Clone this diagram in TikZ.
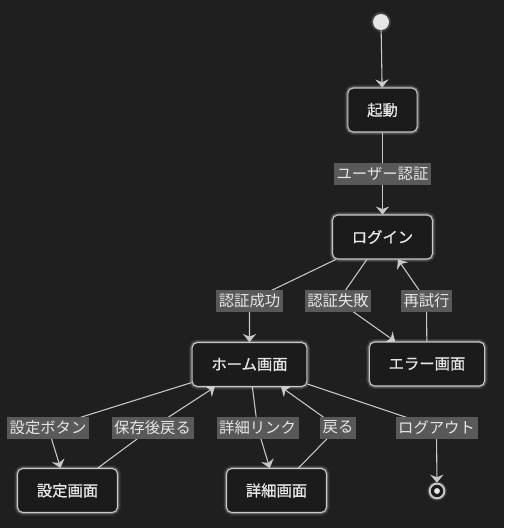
\documentclass[tikz,border=0pt]{standalone}
\usepackage{fontspec}
\newfontfamily\jpfont{Noto Sans CJK JP}
\newfontfamily\jpmid[FakeBold=0.9]{Noto Sans CJK JP}
\usetikzlibrary{arrows.meta,backgrounds}
\definecolor{bgdark}{HTML}{1F1F1F}
\definecolor{boxfill}{HTML}{1B1B1B}
\definecolor{boxline}{HTML}{C8C8C8}
\definecolor{tagfill}{HTML}{595959}
\definecolor{inktext}{HTML}{E6E6E6}

\begin{document}
\begin{tikzpicture}[x=0.75pt,y=-0.75pt,
    state/.style={draw=boxline, fill=boxfill, rounded corners=4pt, line width=0.8pt,
        text=inktext, font=\jpmid\fontsize{11.5}{14}\selectfont,
        minimum height=33pt, inner xsep=14.5pt,
        preaction={draw=white, opacity=0.10, line width=4.5pt},
        preaction={draw=white, opacity=0.22, line width=2.4pt}},
    tag/.style={fill=tagfill, text=inktext, font=\jpfont\fontsize{11.5}{14}\selectfont,
        inner xsep=2pt, inner ysep=1pt, minimum height=16.5pt},
    edge/.style={draw=boxline, line width=0.8pt, -{Stealth[width=10pt,length=6pt,inset=2pt]}}]

    % states
    \node[circle, fill=inktext, minimum size=12pt, inner sep=0pt,
        preaction={draw=white, opacity=0.15, line width=3pt}] (start) at (381,22) {};
    \node[state] (boot)     at (382.5,110)   {起動};
    \node[state] (login)    at (382.5,237)   {ログイン};
    \node[state] (home)     at (249.5,364.5) {ホーム画面};
    \node[state] (error)    at (427,364)     {エラー画面};
    \node[state] (settings) at (67.5,490.5)  {設定画面};
    \node[state] (detail)   at (276.5,490.5) {詳細画面};
    \node[circle, draw=boxline, line width=1.5pt, fill=boxfill, minimum size=11pt, inner sep=0pt,
        preaction={draw=white, opacity=0.15, line width=3.5pt},
        path picture={\fill[inktext] (path picture bounding box.center) circle (2.2pt);}]
        (finish) at (437,491) {};

    % transition labels
    \node[tag] (tUser)  at (382.5,174)   {ユーザー認証};
    \node[tag] (tOk)    at (249.5,301)   {認証成功};
    \node[tag] (tFail)  at (338,301)     {認証失敗};
    \node[tag] (tRetry) at (426.5,301)   {再試行};
    \node[tag] (tSet)   at (48,427.5)    {設定ボタン};
    \node[tag] (tSave)  at (152.5,427.5) {保存後戻る};
    \node[tag] (tLink)  at (257.5,427.5) {詳細リンク};
    \node[tag] (tBack)  at (338,427.5)   {戻る};
    \node[tag] (tOut)   at (436.5,427.5) {ログアウト};

    \begin{pgfonlayer}{background}
        \fill[bgdark] (0,0) rectangle (504,528);
        \draw[edge] (start) -- (boot);
        \foreach \from/\via/\to in {boot/tUser/login, login/tOk/home, login/tFail/error,
                error/tRetry/login, home/tSet/settings, settings/tSave/home,
                home/tLink/detail, detail/tBack/home, home/tOut/finish}
            \draw[edge] (\from) -- (\via.center) -- (\to);
    \end{pgfonlayer}
\end{tikzpicture}
\end{document}
